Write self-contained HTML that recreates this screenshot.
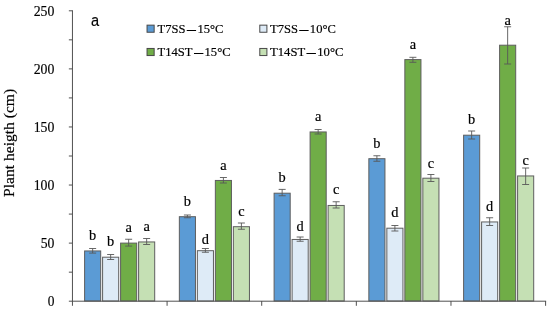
<!DOCTYPE html>
<html><head><meta charset="utf-8"><title>Plant height chart</title>
<style>
html,body{margin:0;padding:0;background:#fff;}
svg{display:block;}
text{font-family:"Liberation Serif",serif;fill:#000;stroke:#000;stroke-width:0.18px;}
</style></head><body>
<svg width="550" height="312" viewBox="0 0 550 312">
<rect x="0" y="0" width="550" height="312" fill="#fff"/>

<rect x="84.60" y="250.95" width="16.1" height="50.05" fill="#5b9bd5" stroke="#5e5e5e" stroke-width="1"/>
<path d="M92.65 248.50V253.10M89.15 248.50H96.15M89.15 253.10H96.15" stroke="#585858" stroke-width="0.9" fill="none"/>
<text x="92.65" y="240.00" font-size="14.4" text-anchor="middle">b</text>
<rect x="102.60" y="257.20" width="16.1" height="43.80" fill="#deebf7" stroke="#5e5e5e" stroke-width="1"/>
<path d="M110.65 254.50V259.50M107.15 254.50H114.15M107.15 259.50H114.15" stroke="#585858" stroke-width="0.9" fill="none"/>
<text x="110.65" y="246.00" font-size="14.4" text-anchor="middle">b</text>
<rect x="120.60" y="243.10" width="16.1" height="57.90" fill="#70ad47" stroke="#5e5e5e" stroke-width="1"/>
<path d="M128.65 239.25V246.10M125.15 239.25H132.15M125.15 246.10H132.15" stroke="#585858" stroke-width="0.9" fill="none"/>
<text x="128.65" y="232.00" font-size="14.4" text-anchor="middle">a</text>
<rect x="138.60" y="241.95" width="16.1" height="59.05" fill="#c5e0b4" stroke="#5e5e5e" stroke-width="1"/>
<path d="M146.65 238.50V244.50M143.15 238.50H150.15M143.15 244.50H150.15" stroke="#585858" stroke-width="0.9" fill="none"/>
<text x="146.65" y="231.00" font-size="14.4" text-anchor="middle">a</text>
<rect x="179.35" y="216.70" width="16.1" height="84.30" fill="#5b9bd5" stroke="#5e5e5e" stroke-width="1"/>
<path d="M187.40 215.00V217.75M183.90 215.00H190.90M183.90 217.75H190.90" stroke="#585858" stroke-width="0.9" fill="none"/>
<text x="187.40" y="206.00" font-size="14.4" text-anchor="middle">b</text>
<rect x="197.35" y="250.70" width="16.1" height="50.30" fill="#deebf7" stroke="#5e5e5e" stroke-width="1"/>
<path d="M205.40 248.50V252.25M201.90 248.50H208.90M201.90 252.25H208.90" stroke="#585858" stroke-width="0.9" fill="none"/>
<text x="205.40" y="244.00" font-size="14.4" text-anchor="middle">d</text>
<rect x="215.35" y="180.45" width="16.1" height="120.55" fill="#70ad47" stroke="#5e5e5e" stroke-width="1"/>
<path d="M223.40 177.50V183.00M219.90 177.50H226.90M219.90 183.00H226.90" stroke="#585858" stroke-width="0.9" fill="none"/>
<text x="223.40" y="170.00" font-size="14.4" text-anchor="middle">a</text>
<rect x="233.35" y="226.70" width="16.1" height="74.30" fill="#c5e0b4" stroke="#5e5e5e" stroke-width="1"/>
<path d="M241.40 223.00V229.25M237.90 223.00H244.90M237.90 229.25H244.90" stroke="#585858" stroke-width="0.9" fill="none"/>
<text x="241.40" y="216.00" font-size="14.4" text-anchor="middle">c</text>
<rect x="274.10" y="193.20" width="16.1" height="107.80" fill="#5b9bd5" stroke="#5e5e5e" stroke-width="1"/>
<path d="M282.15 189.40V195.75M278.65 189.40H285.65M278.65 195.75H285.65" stroke="#585858" stroke-width="0.9" fill="none"/>
<text x="282.15" y="182.00" font-size="14.4" text-anchor="middle">b</text>
<rect x="292.10" y="239.45" width="16.1" height="61.55" fill="#deebf7" stroke="#5e5e5e" stroke-width="1"/>
<path d="M300.15 237.00V241.25M296.65 237.00H303.65M296.65 241.25H303.65" stroke="#585858" stroke-width="0.9" fill="none"/>
<text x="300.15" y="231.00" font-size="14.4" text-anchor="middle">d</text>
<rect x="310.10" y="131.95" width="16.1" height="169.05" fill="#70ad47" stroke="#5e5e5e" stroke-width="1"/>
<path d="M318.15 129.50V134.00M314.65 129.50H321.65M314.65 134.00H321.65" stroke="#585858" stroke-width="0.9" fill="none"/>
<text x="318.15" y="121.00" font-size="14.4" text-anchor="middle">a</text>
<rect x="328.10" y="205.45" width="16.1" height="95.55" fill="#c5e0b4" stroke="#5e5e5e" stroke-width="1"/>
<path d="M336.15 201.75V208.00M332.65 201.75H339.65M332.65 208.00H339.65" stroke="#585858" stroke-width="0.9" fill="none"/>
<text x="336.15" y="194.00" font-size="14.4" text-anchor="middle">c</text>
<rect x="368.85" y="158.70" width="16.1" height="142.30" fill="#5b9bd5" stroke="#5e5e5e" stroke-width="1"/>
<path d="M376.90 155.75V161.25M373.40 155.75H380.40M373.40 161.25H380.40" stroke="#585858" stroke-width="0.9" fill="none"/>
<text x="376.90" y="148.00" font-size="14.4" text-anchor="middle">b</text>
<rect x="386.85" y="228.20" width="16.1" height="72.80" fill="#deebf7" stroke="#5e5e5e" stroke-width="1"/>
<path d="M394.90 225.50V231.00M391.40 225.50H398.40M391.40 231.00H398.40" stroke="#585858" stroke-width="0.9" fill="none"/>
<text x="394.90" y="217.00" font-size="14.4" text-anchor="middle">d</text>
<rect x="404.85" y="59.60" width="16.1" height="241.40" fill="#70ad47" stroke="#5e5e5e" stroke-width="1"/>
<path d="M412.90 57.30V62.30M409.40 57.30H416.40M409.40 62.30H416.40" stroke="#585858" stroke-width="0.9" fill="none"/>
<text x="412.90" y="49.00" font-size="14.4" text-anchor="middle">a</text>
<rect x="422.85" y="178.20" width="16.1" height="122.80" fill="#c5e0b4" stroke="#5e5e5e" stroke-width="1"/>
<path d="M430.90 174.50V181.50M427.40 174.50H434.40M427.40 181.50H434.40" stroke="#585858" stroke-width="0.9" fill="none"/>
<text x="430.90" y="168.00" font-size="14.4" text-anchor="middle">c</text>
<rect x="463.60" y="135.20" width="16.1" height="165.80" fill="#5b9bd5" stroke="#5e5e5e" stroke-width="1"/>
<path d="M471.65 131.00V139.00M468.15 131.00H475.15M468.15 139.00H475.15" stroke="#585858" stroke-width="0.9" fill="none"/>
<text x="471.65" y="124.00" font-size="14.4" text-anchor="middle">b</text>
<rect x="481.60" y="221.95" width="16.1" height="79.05" fill="#deebf7" stroke="#5e5e5e" stroke-width="1"/>
<path d="M489.65 217.75V225.50M486.15 217.75H493.15M486.15 225.50H493.15" stroke="#585858" stroke-width="0.9" fill="none"/>
<text x="489.65" y="211.00" font-size="14.4" text-anchor="middle">d</text>
<rect x="499.60" y="45.20" width="16.1" height="255.80" fill="#70ad47" stroke="#5e5e5e" stroke-width="1"/>
<path d="M507.65 26.75V64.00M504.15 26.75H511.15M504.15 64.00H511.15" stroke="#585858" stroke-width="0.9" fill="none"/>
<text x="507.65" y="25.00" font-size="14.4" text-anchor="middle">a</text>
<rect x="517.60" y="175.95" width="16.1" height="125.05" fill="#c5e0b4" stroke="#5e5e5e" stroke-width="1"/>
<path d="M525.65 168.00V184.50M522.15 168.00H529.15M522.15 184.50H529.15" stroke="#585858" stroke-width="0.9" fill="none"/>
<text x="525.65" y="165.00" font-size="14.4" text-anchor="middle">c</text>
<path d="M72.45 10.3V301.2M71.95 301.2H546.1" stroke="#505050" stroke-width="1" fill="none"/>
<path d="M68.85000000000001 301.20H72.45" stroke="#505050" stroke-width="1"/>
<path d="M68.85000000000001 272.16H72.45" stroke="#505050" stroke-width="1"/>
<path d="M68.85000000000001 243.12H72.45" stroke="#505050" stroke-width="1"/>
<path d="M68.85000000000001 214.08H72.45" stroke="#505050" stroke-width="1"/>
<path d="M68.85000000000001 185.04H72.45" stroke="#505050" stroke-width="1"/>
<path d="M68.85000000000001 156.00H72.45" stroke="#505050" stroke-width="1"/>
<path d="M68.85000000000001 126.96H72.45" stroke="#505050" stroke-width="1"/>
<path d="M68.85000000000001 97.92H72.45" stroke="#505050" stroke-width="1"/>
<path d="M68.85000000000001 68.88H72.45" stroke="#505050" stroke-width="1"/>
<path d="M68.85000000000001 39.84H72.45" stroke="#505050" stroke-width="1"/>
<path d="M68.85000000000001 10.80H72.45" stroke="#505050" stroke-width="1"/>
<path d="M72.45 301.0V305.8" stroke="#505050" stroke-width="1"/>
<path d="M167.08 301.0V305.8" stroke="#505050" stroke-width="1"/>
<path d="M261.71 301.0V305.8" stroke="#505050" stroke-width="1"/>
<path d="M356.34 301.0V305.8" stroke="#505050" stroke-width="1"/>
<path d="M450.97 301.0V305.8" stroke="#505050" stroke-width="1"/>
<path d="M545.60 301.0V305.8" stroke="#505050" stroke-width="1"/>
<text x="47.70" y="306.15" font-size="15.4" textLength="6.70" lengthAdjust="spacingAndGlyphs">0</text>
<text x="40.70" y="248.07" font-size="15.4" textLength="13.70" lengthAdjust="spacingAndGlyphs">50</text>
<text x="33.70" y="189.99" font-size="15.4" textLength="20.70" lengthAdjust="spacingAndGlyphs">100</text>
<text x="33.70" y="131.91" font-size="15.4" textLength="20.70" lengthAdjust="spacingAndGlyphs">150</text>
<text x="33.70" y="73.83" font-size="15.4" textLength="20.70" lengthAdjust="spacingAndGlyphs">200</text>
<text x="33.70" y="15.75" font-size="15.4" textLength="20.70" lengthAdjust="spacingAndGlyphs">250</text>
<text transform="translate(13.7,196.9) rotate(-90)" font-size="14" stroke-width="0.06" textLength="108" lengthAdjust="spacingAndGlyphs">Plant heigth (cm)</text>
<text x="90.9" y="26.3" font-size="17.1" textLength="8.1" lengthAdjust="spacingAndGlyphs" stroke-width="0.1" style="font-family:'Liberation Sans',sans-serif">a</text>
<rect x="147.05" y="25.15" width="7.1" height="7.1" fill="#5b9bd5" stroke="#484848" stroke-width="1"/>
<text x="157.6" y="33" font-size="12.8" textLength="65.7" lengthAdjust="spacingAndGlyphs">T7SS<tspan font-size="9.0" dx="1.6" dy="-0.9" stroke-width="0.4">—</tspan><tspan dx="1.6" dy="0.9">15°C</tspan></text>
<rect x="147.05" y="48.45" width="7.1" height="7.1" fill="#70ad47" stroke="#484848" stroke-width="1"/>
<text x="157.6" y="56" font-size="12.8" textLength="73.0" lengthAdjust="spacingAndGlyphs">T14ST<tspan font-size="9.0" dx="1.6" dy="-0.9" stroke-width="0.4">—</tspan><tspan dx="1.6" dy="0.9">15°C</tspan></text>
<rect x="259.80" y="25.15" width="7.1" height="7.1" fill="#deebf7" stroke="#484848" stroke-width="1"/>
<text x="270" y="33" font-size="12.8" textLength="65.8" lengthAdjust="spacingAndGlyphs">T7SS<tspan font-size="9.0" dx="1.6" dy="-0.9" stroke-width="0.4">—</tspan><tspan dx="1.6" dy="0.9">10°C</tspan></text>
<rect x="259.80" y="48.45" width="7.1" height="7.1" fill="#c5e0b4" stroke="#484848" stroke-width="1"/>
<text x="270" y="56" font-size="12.8" textLength="73.4" lengthAdjust="spacingAndGlyphs">T14ST<tspan font-size="9.0" dx="1.6" dy="-0.9" stroke-width="0.4">—</tspan><tspan dx="1.6" dy="0.9">10°C</tspan></text>
</svg></body></html>
